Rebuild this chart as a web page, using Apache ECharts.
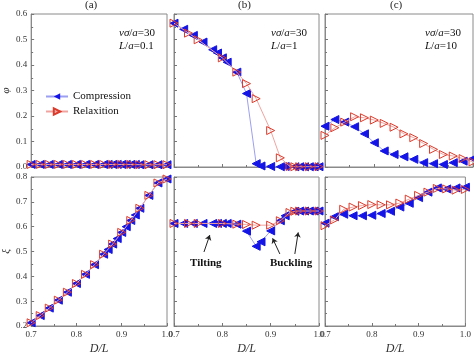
<!DOCTYPE html>
<html><head><meta charset="utf-8">
<script src="https://cdn.jsdelivr.net/npm/echarts@6/dist/echarts.min.js"></script>
<style>html,body{margin:0;padding:0;background:#fff}#c{width:474px;height:356px}</style>
</head><body><div id="c"></div>
<script>
// ---- data ----
const xA_comp = [0.70,0.72,0.74,0.76,0.78,0.80,0.82,0.84,0.86,0.87,0.88,0.89,0.90,0.91,0.92,0.93,0.94,0.96,0.98,1.00];
const xA_relax = [0.70,0.72,0.74,0.76,0.78,0.80,0.82,0.84,0.86,0.88,0.90,0.92,0.94,0.96,0.98,1.00];
const phiA_comp = [0.010,0.010,0.010,0.010,0.010,0.010,0.010,0.010,0.010,0.010,0.010,0.010,0.010,0.010,0.010,0.010,0.009,0.009,0.009,0.009];
const phiA_relax = [0.010,0.010,0.010,0.010,0.010,0.010,0.010,0.010,0.010,0.010,0.010,0.010,0.009,0.009,0.009,0.009];
const xiA_comp = [0.213,0.242,0.272,0.304,0.336,0.371,0.408,0.447,0.489,0.508,0.530,0.552,0.577,0.600,0.625,0.647,0.674,0.726,0.776,0.792];
const xiA_relax = [0.213,0.242,0.272,0.304,0.336,0.371,0.408,0.447,0.489,0.530,0.577,0.625,0.674,0.726,0.776,0.792];

const xB_comp = [0.70,0.72,0.74,0.76,0.78,0.79,0.80,0.81,0.83,0.85,0.87,0.88,0.90,0.92,0.93,0.95,0.96,0.97,0.98,0.99,1.00];
const xB_relax = [0.70,0.73,0.75,0.80,0.83,0.85,0.87,0.90,0.92,0.94,0.95,0.96,0.98,1.00];
const phiB_comp = [0.564,0.540,0.516,0.490,0.460,0.447,0.428,0.411,0.372,0.288,0.013,0.004,0.002,0.001,0.002,0.001,0.001,0.001,0.001,0.001,0.001];
const phiB_relax = [0.564,0.525,0.499,0.428,0.372,0.327,0.268,0.143,0.036,0.002,0.001,0.001,0.001,0.001];
const xiB_comp = [0.613,0.613,0.613,0.613,0.613,0.613,0.613,0.613,0.610,0.582,0.521,0.539,0.583,0.624,0.644,0.662,0.663,0.663,0.663,0.663,0.663];
const xiB_relax = [0.613,0.613,0.613,0.613,0.610,0.609,0.606,0.606,0.624,0.657,0.662,0.663,0.663,0.663];

const xC = [0.70,0.72,0.74,0.76,0.78,0.80,0.82,0.84,0.86,0.88,0.90,0.92,0.94,0.96,0.98,1.00];
const phiC_comp = [0.160,0.186,0.176,0.158,0.130,0.095,0.063,0.049,0.040,0.030,0.017,0.013,0.010,0.017,0.023,0.033];
const phiC_relax = [0.124,0.154,0.176,0.197,0.193,0.184,0.171,0.156,0.130,0.115,0.092,0.069,0.049,0.043,0.033,0.020];
const xiC_comp = [0.614,0.640,0.650,0.644,0.644,0.646,0.653,0.662,0.679,0.694,0.717,0.739,0.756,0.752,0.756,0.759];
const xiC_relax = [0.604,0.627,0.670,0.679,0.685,0.689,0.688,0.688,0.695,0.711,0.726,0.739,0.754,0.752,0.747,0.750];

const panelTitles = ['(a)','(b)','(c)'];
const laValues = ['0.1','1','10'];

// ---- layout ----
const F = 'Liberation Serif, Times New Roman, serif';
const cols = [{l:23,w:144},{l:174,w:145},{l:325,w:148}];
const rows = [{t:14,h:153},{t:177,h:155}];
const zip = (xs, ys) => xs.map((x,i)=>[x, ys[i]]);

const grids=[], xAxes=[], yAxes=[], series=[];
const panelData = [
  [[xA_comp,phiA_comp,xA_relax,phiA_relax],[xA_comp,xiA_comp,xA_relax,xiA_relax]],
  [[xB_comp,phiB_comp,xB_relax,phiB_relax],[xB_comp,xiB_comp,xB_relax,xiB_relax]],
  [[xC,phiC_comp,xC,phiC_relax],[xC,xiC_comp,xC,xiC_relax]]
];
let gi=0;
for (let r=0;r<2;r++){
  for (let c=0;c<3;c++){
    grids.push({left:cols[c].l, top:rows[r].t, width:cols[c].w, height:rows[r].h,
      show:true, borderColor:'#8a8a8a', borderWidth:1, backgroundColor:'transparent'});
    xAxes.push({type:'value', gridIndex:gi, min:0.7, max:1.0, interval:0.1,
      axisLine:{show:true, lineStyle:{color:'#8a8a8a'}},
      axisTick:{show:true, inside:true, length:3, lineStyle:{color:'#777'}},
      minorTick:{show:true, splitNumber:2, length:2, lineStyle:{color:'#777'}},
      splitLine:{show:false},
      axisLabel:{show:r===1, fontFamily:F, fontSize:9, color:'#333', margin:4,
        formatter:v=>v.toFixed(1)},
      name: r===1 ? 'D/L' : '', nameLocation:'middle', nameGap:17,
      nameTextStyle:{fontFamily:F, fontStyle:'italic', fontSize:12, color:'#333'}
    });
    yAxes.push({type:'value', gridIndex:gi,
      min: r===0?0:0.2, max: r===0?0.6:0.8, interval:0.1,
      axisLine:{show:true, lineStyle:{color:'#8a8a8a'}},
      axisTick:{show:true, inside:true, length:3, lineStyle:{color:'#777'}},
      minorTick:{show:true, splitNumber:2, length:2, lineStyle:{color:'#777'}},
      splitLine:{show:false},
      axisLabel:{show:c===0, fontFamily:F, fontSize:9, color:'#333', margin:4,
        formatter:v=>v.toFixed(1)},
      name: c===0 ? (r===0?'φ':'ξ') : '', nameLocation:'middle', nameGap:17, nameRotate:90,
      nameTextStyle:{fontFamily:F, fontStyle:'italic', fontSize:11, color:'#333'}
    });
    const d = panelData[c][r];
    series.push({name:'Compression', type:'line', xAxisIndex:gi, yAxisIndex:gi,
      data: zip(d[0],d[1]), symbol:'triangle', symbolSize:8, symbolRotate:90,
      lineStyle:{color:'#9c9ff0', width:1}, itemStyle:{color:'#1414e6', borderColor:'#1414e6'},
      z:2});
    series.push({name:'Relaxition', type:'line', xAxisIndex:gi, yAxisIndex:gi,
      data: zip(d[2],d[3]), symbol:'triangle', symbolSize:8, symbolRotate:-90,
      lineStyle:{color:'#f0a4a0', width:1},
      itemStyle:{color:'rgba(255,255,255,0)', borderColor:'#dc3a2a', borderWidth:1},
      z:3});
    gi++;
  }
}
// arrows on panel (b) bottom, in data coordinates
series[8].markLine = {silent:true, symbol:['none','arrow'], symbolSize:5,
  lineStyle:{color:'#222', width:1, type:'solid'}, label:{show:false},
  data:[
    [{coord:[0.762,0.498]},{coord:[0.774,0.566]}],
    [{coord:[0.919,0.490]},{coord:[0.904,0.553]}],
    [{coord:[0.950,0.490]},{coord:[0.957,0.577]}]
  ]};

const rich = {i:{fontFamily:F, fontStyle:'italic', fontSize:11, color:'#111'}, n:{fontFamily:F, fontSize:11, color:'#111'}};
const graphics = [];
const cx = [93, 246, 398];
for (let c=0;c<3;c++){
  graphics.push({type:'text', left:cx[c]-8, top:0, style:{text:panelTitles[c], font:'11px '+F, fill:'#222'}});
  graphics.push({type:'text', left:cols[c].l+cols[c].w-48, top:27,
    style:{text:'{i|vσ}{n|/}{i|a}{n|=30}\n{i|L}{n|/}{i|a}{n|='+laValues[c]+'}', rich:rich, lineHeight:13, fill:'#111'}});
}
graphics.push({type:'text', left:190, top:258, style:{text:'Tilting', font:'bold 11px '+F, fill:'#111'}});
graphics.push({type:'text', left:270, top:258, style:{text:'Buckling', font:'bold 11px '+F, fill:'#111'}});

const chart = echarts.init(document.getElementById('c'), null, {renderer:'canvas'});
chart.setOption({
  animation:false,
  backgroundColor:'#fff',
  grid:grids, xAxis:xAxes, yAxis:yAxes, series:series,
  legend:{left:40, top:86, orient:'vertical', itemGap:4, itemWidth:22, itemHeight:8,
    data:['Compression','Relaxition'],
    textStyle:{fontFamily:F, fontSize:11, color:'#111'}},
  graphic:graphics
});
</script></body></html>
